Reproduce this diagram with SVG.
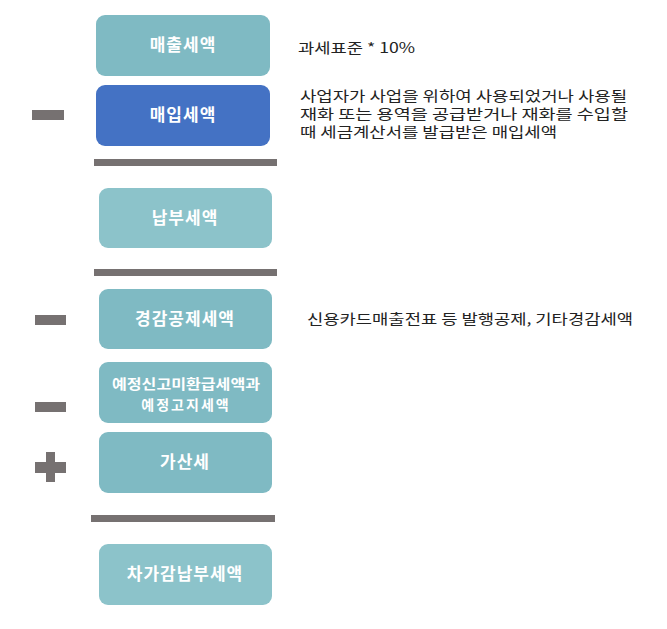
<svg xmlns="http://www.w3.org/2000/svg" width="667" height="629" viewBox="0 0 667 629">
<style>
.box{fill:#7fbac3}
.light{fill:#8cc3ca}
.blue{fill:#4472c4}
.lbl{font-family:"Noto Sans CJK KR","Noto Sans",sans-serif;font-weight:bold;font-size:17px;fill:#ffffff;text-anchor:middle;letter-spacing:1px}
.lbl2{font-family:"Noto Sans CJK KR","Noto Sans",sans-serif;font-weight:bold;font-size:14px;fill:#ffffff;text-anchor:middle}
.note{font-family:"Noto Sans CJK KR","Noto Sans",sans-serif;font-size:14px;fill:#222222}
.bar{fill:#767171}
</style>
<rect width="667" height="629" fill="#ffffff"/>
<g id="connectors">
<rect class="bar" x="94" y="159" width="183" height="7"/>
<rect class="bar" x="94" y="269" width="183" height="7"/>
<rect class="bar" x="91" y="515" width="184" height="7"/>
<rect class="bar" x="32" y="110" width="32" height="10"/>
<rect class="bar" x="35" y="315" width="31" height="10"/>
<rect class="bar" x="35" y="402" width="31" height="10"/>
<rect class="bar" x="35" y="462" width="31" height="11"/>
<rect class="bar" x="46" y="452" width="9" height="30"/>
</g>
<g id="n1"><rect class="box" x="96" y="15" width="174" height="61" rx="9"/><text class="lbl" x="183" y="51">매출세액</text></g>
<g id="n2"><rect class="blue" x="96" y="85" width="174" height="61" rx="9"/><text class="lbl" x="183" y="121">매입세액</text></g>
<g id="n3"><rect class="light" x="99" y="188" width="173" height="60" rx="9"/><text class="lbl" x="185" y="224">납부세액</text></g>
<g id="n4"><rect class="box" x="99" y="289" width="173" height="60" rx="9"/><text class="lbl" x="185" y="325">경감공제세액</text></g>
<g id="n5"><rect class="box" x="99" y="362" width="173" height="61" rx="9"/><text class="lbl2" x="186" y="389" textLength="148" lengthAdjust="spacingAndGlyphs">예정신고미환급세액과</text><text class="lbl2" x="186" y="410" letter-spacing="2">예정고지세액</text></g>
<g id="n6"><rect class="box" x="99" y="432" width="173" height="61" rx="9"/><text class="lbl" x="185" y="468">가산세</text></g>
<g id="n7"><rect class="light" x="99" y="544" width="173" height="61" rx="9"/><text class="lbl" x="185" y="580">차가감납부세액</text></g>
<g id="notes">
<text class="note" x="298" y="53" textLength="117" lengthAdjust="spacingAndGlyphs" font-size="15">과세표준 * 10%</text>
<text class="note" x="300" y="101" textLength="327" lengthAdjust="spacingAndGlyphs">사업자가 사업을 위하여 사용되었거나 사용될</text>
<text class="note" x="300" y="119" textLength="328" lengthAdjust="spacingAndGlyphs">재화 또는 용역을 공급받거나 재화를 수입할</text>
<text class="note" x="300" y="137" textLength="257" lengthAdjust="spacingAndGlyphs">때 세금계산서를 발급받은 매입세액</text>
<text class="note" x="307" y="324" textLength="326" lengthAdjust="spacingAndGlyphs" font-size="15">신용카드매출전표 등 발행공제, 기타경감세액</text>
</g>
</svg>
